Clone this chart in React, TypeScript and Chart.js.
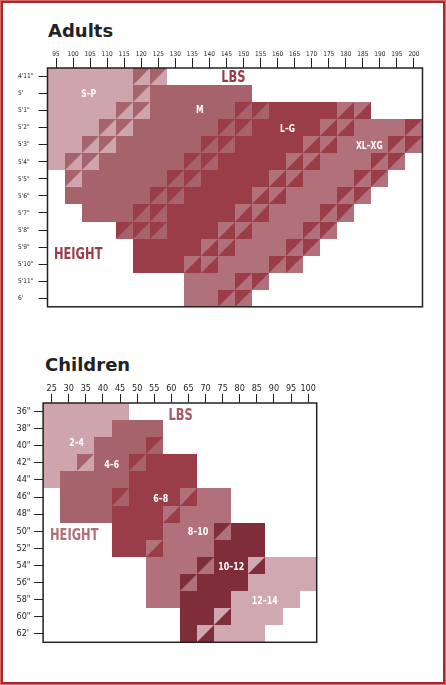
import React, { useEffect, useRef } from "react";
import { Chart, registerables } from "chart.js";

Chart.register(...registerables);

// ---------- Adults ----------
const adultWeights = [95, 100, 105, 110, 115, 120, 125, 130, 135, 140, 145, 150, 155, 160, 165, 170, 175, 180, 185, 190, 195, 200];
const adultHeights = ["4'11\"", "5'", "5'1\"", "5'2\"", "5'3\"", "5'4\"", "5'5\"", "5'6\"", "5'7\"", "5'8\"", "5'9\"", "5'10\"", "5'11\"", "6'"];
const adultSizes = ["S–P", "M", "L–G", "XL–XG"];
// one character per weight column: S/M/L/X = size, lower case = cell split between two sizes, "." = none
const adultGrid = [
  "SSSSSaa...............",
  "SSSSSaMMMMMM..........",
  "SSSSaaMMMMMbbLLLLcc...",
  "SSSaaMMMMMbbLLLLccXXXd",
  "SSaaMMMMMbbLLLLccXXXdd",
  "SaaMMMMMbbLLLLccXXXdd.",
  ".aMMMMMbbLLLLccXXXdd..",
  ".MMMMMbbLLLLccXXXdd...",
  "..MMMbbLLLLccXXXdd....",
  "....bbbLLLccXXXdd.....",
  ".....LLLLccXXXdd......",
  ".....LLLccXXXdd.......",
  "........XXXdd.........",
  "........XXdd..........",
];
const adultColors: Record<string, string> = { S: "#cfa5ad", M: "#a7636b", L: "#9b3d49", X: "#b0717a" };
const adultSplits: Record<string, [string, string]> = { a: ["M", "S"], b: ["L", "M"], c: ["X", "L"], d: ["L", "X"] };

// ---------- Children ----------
const childWeights = [25, 30, 35, 40, 45, 50, 55, 60, 65, 70, 75, 80, 85, 90, 95, 100];
const childHeights = ["36\"", "38\"", "40\"", "42\"", "44\"", "46\"", "48\"", "50\"", "52\"", "54\"", "56\"", "58\"", "60\"", "62'"];
const childSizes = ["2–4", "4–6", "6–8", "8–10", "10–12", "12–14"];
const childGrid = [
  "AAAAA...........",
  "AAAABBB.........",
  "AAABBBq.........",
  "AApBBqCCC.......",
  "ABBBBCCCC.......",
  ".BBBqCCCrEE.....",
  ".BBBCCCrEEE.....",
  "....CCCEEEsFF...",
  "....CCrEEEFFF...",
  "......EEEsFFtGGG",
  "......EEsFFFGGGG",
  "......EEFFFGGGG.",
  "........FFtGGG..",
  "........FtGGG...",
];
const childColors: Record<string, string> = { A: "#cfa5ad", B: "#a7636b", C: "#9b3d49", E: "#b0717a", F: "#7f2d38", G: "#d0a8b0" };
const childSplits: Record<string, [string, string]> = { p: ["B", "A"], q: ["C", "B"], r: ["E", "C"], s: ["F", "E"], t: ["G", "F"] };

type Label = { text: string; x: number; y: number; color: string; size: number; squeeze: number };
type Spec = {
  weights: number[];
  heights: string[];
  grid: string[];
  colors: Record<string, string>;
  splits: Record<string, [string, string]>;
  labels: Label[];
};
type Layout = {
  padding: { left: number; top: number; right: number; bottom: number };
  yWidth: number;
  xHeight: number;
  tickSize: number;
  xTickLen: number;
  yTickLen: number;
};

const FONT = "'DejaVu Sans Condensed', 'DejaVu Sans', sans-serif";

function makeGridPlugin(spec: Spec) {
  return {
    id: "sizeGrid",
    beforeDatasetsDraw(chart: any) {
      const { ctx, scales } = chart;
      const xs = scales.x;
      const ys = scales.y;
      const half = (spec.weights[1] - spec.weights[0]) / 2;
      ctx.save();
      spec.grid.forEach((row, j) => {
        for (let i = 0; i < row.length; i++) {
          const code = row[i];
          if (code === ".") continue;
          const w = spec.weights[i];
          const xa = Math.round(xs.getPixelForValue(w - half));
          const xb = Math.round(xs.getPixelForValue(w + half));
          const ya = Math.round(ys.getPixelForValue(j - 0.5));
          const yb = Math.round(ys.getPixelForValue(j + 0.5));
          const x0 = Math.min(xa, xb), x1 = Math.max(xa, xb);
          const y0 = Math.min(ya, yb), y1 = Math.max(ya, yb);
          if (spec.colors[code]) {
            ctx.fillStyle = spec.colors[code];
            ctx.fillRect(x0, y0, x1 - x0, y1 - y0);
          } else {
            const [ul, lr] = spec.splits[code];
            ctx.fillStyle = spec.colors[lr];
            ctx.fillRect(x0, y0, x1 - x0, y1 - y0);
            ctx.fillStyle = spec.colors[ul];
            ctx.beginPath();
            ctx.moveTo(x0, y0);
            ctx.lineTo(x1, y0);
            ctx.lineTo(x0, y1);
            ctx.closePath();
            ctx.fill();
          }
        }
      });
      spec.labels.forEach((l) => {
        const px = xs.getPixelForValue(l.x);
        const py = ys.getPixelForValue(l.y);
        ctx.save();
        ctx.translate(px, py + l.size * 0.365);
        ctx.scale(l.squeeze, 1);
        ctx.font = `bold ${l.size}px ${FONT}`;
        ctx.fillStyle = l.color;
        ctx.textAlign = "center";
        ctx.textBaseline = "alphabetic";
        ctx.fillText(l.text, 0, 0);
        ctx.restore();
      });
      ctx.restore();
    },
    afterDraw(chart: any) {
      const { ctx, chartArea } = chart;
      ctx.save();
      ctx.strokeStyle = "#222";
      ctx.lineWidth = 1.5;
      ctx.strokeRect(chartArea.left, chartArea.top, chartArea.right - chartArea.left, chartArea.bottom - chartArea.top);
      ctx.restore();
    },
  };
}

function buildConfig(spec: Spec, layout: Layout): any {
  const half = (spec.weights[1] - spec.weights[0]) / 2;
  const tickFont = { family: FONT, size: layout.tickSize };
  return {
    type: "scatter",
    data: { datasets: [] },
    options: {
      animation: false,
      responsive: false,
      events: [],
      layout: { padding: layout.padding },
      plugins: { legend: { display: false }, tooltip: { enabled: false }, title: { display: false } },
      scales: {
        x: {
          type: "linear",
          position: "top",
          min: spec.weights[0] - half,
          max: spec.weights[spec.weights.length - 1] + half,
          afterBuildTicks: (s: any) => {
            s.ticks = spec.weights.map((v) => ({ value: v }));
          },
          afterFit: (s: any) => {
            s.height = layout.xHeight;
          },
          ticks: { font: tickFont, color: "#222", padding: 0, maxRotation: 0, autoSkip: false, callback: (v: any) => String(v) },
          grid: { drawOnChartArea: false, drawTicks: true, tickLength: layout.xTickLen, color: "#222", lineWidth: 1 },
          border: { display: false },
        },
        y: {
          type: "linear",
          reverse: true,
          min: -0.5,
          max: spec.heights.length - 0.5,
          afterBuildTicks: (s: any) => {
            s.ticks = spec.heights.map((_, i) => ({ value: i }));
          },
          afterFit: (s: any) => {
            s.width = layout.yWidth;
          },
          ticks: {
            font: tickFont,
            color: "#222",
            padding: 0,
            crossAlign: "far",
            autoSkip: false,
            callback: (v: any) => spec.heights[Math.round(v)],
          },
          grid: { drawOnChartArea: false, drawTicks: true, tickLength: layout.yTickLen, color: "#222", lineWidth: 1 },
          border: { display: false },
        },
      },
    },
    plugins: [makeGridPlugin(spec)],
  };
}

const adultSpec: Spec = {
  weights: adultWeights,
  heights: adultHeights,
  grid: adultGrid,
  colors: adultColors,
  splits: adultSplits,
  labels: [
    { text: "LBS", x: 147, y: 0.02, color: "#9b3d49", size: 15, squeeze: 0.85 },
    { text: "HEIGHT", x: 101.5, y: 10.4, color: "#9b3d49", size: 15, squeeze: 0.85 },
    { text: adultSizes[0], x: 104.6, y: 0.96, color: "#fff", size: 10, squeeze: 0.85 },
    { text: adultSizes[1], x: 137.2, y: 1.94, color: "#fff", size: 10, squeeze: 0.85 },
    { text: adultSizes[2], x: 162.9, y: 3.05, color: "#fff", size: 10, squeeze: 0.85 },
    { text: adultSizes[3], x: 186.9, y: 4.03, color: "#fff", size: 10, squeeze: 0.85 },
  ],
};

const childSpec: Spec = {
  weights: childWeights,
  heights: childHeights,
  grid: childGrid,
  colors: childColors,
  splits: childSplits,
  labels: [
    { text: "LBS", x: 62.7, y: 0.17, color: "#a55a64", size: 15, squeeze: 0.85 },
    { text: "HEIGHT", x: 31.6, y: 7.19, color: "#b06f78", size: 15, squeeze: 0.85 },
    { text: childSizes[0], x: 32.3, y: 1.83, color: "#fff", size: 10, squeeze: 0.88 },
    { text: childSizes[1], x: 42.6, y: 3.08, color: "#fff", size: 10, squeeze: 0.88 },
    { text: childSizes[2], x: 56.9, y: 5.1, color: "#fff", size: 10, squeeze: 0.88 },
    { text: childSizes[3], x: 67.8, y: 7.0, color: "#fff", size: 10, squeeze: 0.88 },
    { text: childSizes[4], x: 77.5, y: 9.03, color: "#fff", size: 10, squeeze: 0.88 },
    { text: childSizes[5], x: 87.3, y: 11.04, color: "#fff", size: 10, squeeze: 0.88 },
  ],
};

// chart areas (page px): adults 47.5..422.5 x 68..306.8 ; children 43.1..316.7 x 403..642.3
const adultLayout: Layout = {
  padding: { left: 18, top: 48, right: 446 - 422.5, bottom: 320 - 306.8 },
  yWidth: 47.5 - 18,
  xHeight: 20,
  tickSize: 6.5,
  xTickLen: 10,
  yTickLen: 9,
};
const CHILD_TOP = 340;
const childLayout: Layout = {
  padding: { left: 16.5, top: 403 - CHILD_TOP - 20, right: 446 - 316.7, bottom: 320 - (642.3 - CHILD_TOP) },
  yWidth: 43.1 - 16.5,
  xHeight: 20,
  tickSize: 9,
  xTickLen: 9,
  yTickLen: 9,
};

function SizeChart({ spec, layout, top, height }: { spec: Spec; layout: Layout; top: number; height: number }) {
  const ref = useRef<HTMLCanvasElement>(null);
  useEffect(() => {
    const chart = new Chart(ref.current as HTMLCanvasElement, buildConfig(spec, layout));
    return () => chart.destroy();
  }, []);
  return (
    <canvas
      ref={ref}
      width={446}
      height={height}
      style={{ position: "absolute", left: 0, top, width: 446, height, display: "block" }}
    />
  );
}

const titleStyle: React.CSSProperties = {
  position: "absolute",
  font: "bold 18px 'DejaVu Sans', sans-serif",
  lineHeight: "18px",
  color: "#222",
  whiteSpace: "nowrap",
};

export default function App() {
  return (
    <div style={{ position: "fixed", left: 0, top: 0, width: 446, height: 685, background: "#fff", overflow: "hidden" }}>
      <div style={{ ...titleStyle, left: 48, top: 22 }}>Adults</div>
      <div style={{ ...titleStyle, left: 45, top: 355.5 }}>Children</div>
      <SizeChart spec={adultSpec} layout={adultLayout} top={0} height={320} />
      <SizeChart spec={childSpec} layout={childLayout} top={CHILD_TOP} height={320} />
      <div
        style={{ position: "absolute", left: 0, top: 0, right: 0, bottom: 0, border: "1px solid #d46a6a", pointerEvents: "none" }}
      >
        <div style={{ position: "absolute", left: 0, top: 0, right: 0, bottom: 0, border: "2px solid #a8292c" }} />
      </div>
    </div>
  );
}
